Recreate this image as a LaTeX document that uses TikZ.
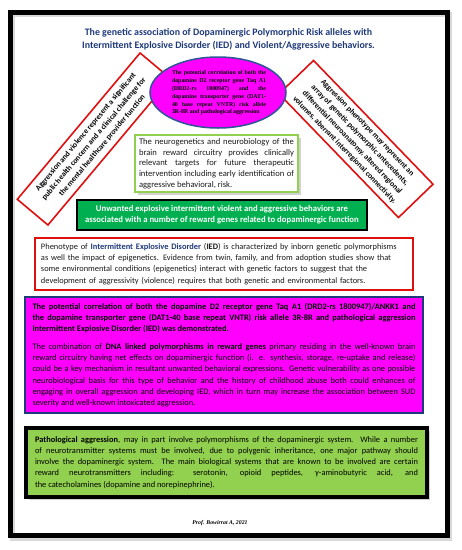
\documentclass[tikz,border=0pt]{standalone}
\usepackage{fontspec}
\setmainfont{Carlito}
\newfontfamily\tnr{Liberation Serif}
\usetikzlibrary{shapes.geometric}
\definecolor{navy}{HTML}{1F3A7A}
\definecolor{ellborder}{HTML}{2E5597}
\definecolor{lgreen}{HTML}{92D050}
\definecolor{dgreen}{HTML}{00B050}
\definecolor{mag}{HTML}{FF00FF}
\definecolor{boxred}{HTML}{E01010}
\definecolor{bodytext}{HTML}{1A1A1A}
\tikzset{
  body/.style={font=\fontsize{8.4}{11.2}\selectfont, text=bodytext},
  just/.style={align=justify, execute at begin node={\hyphenpenalty=10000\tolerance=10000\hbadness=10000}},
  rotbox/.style={draw=boxred, line width=1.6pt, fill=white, inner sep=0pt, align=center,
     font=\bfseries\fontsize{7.8}{10.6}\selectfont},
  shadowbox/.style={fill=black!18},
}
\begin{document}
\begin{tikzpicture}[x=1pt,y=-1pt]
\useasboundingbox (0,0) rectangle (462,550);
\fill[white] (0,0) rectangle (462,550);
% outer frame with shadow
\draw[line width=5pt, black!15] (12.5,14.5) rectangle (449.5,538);
\node[draw, line width=5pt, minimum width=437pt, minimum height=523.5pt, inner sep=0pt] (frame) at (228.5,273.75) {};

% title
\node[font=\bfseries\fontsize{9.9}{13}\selectfont, text=navy, align=center] (title) at (228.5,39.5)
 {The genetic association of Dopaminergic Polymorphic Risk alleles with\\
  Intermittent Explosive Disorder (IED) and Violent/Aggressive behaviors.};

% rotated red boxes
\node[rotbox, rotate=50, minimum width=191pt, minimum height=40pt] (left) at (94,139)
 {Aggression and violence represent a significant\\
  public health concern and a clinical challenge for\\
  the mental healthcare provider function};
\node[rotbox, rotate=-46, minimum width=172pt, minimum height=48pt] (right) at (356,139)
 {Aggression phenotype may represent an\\
  array of genetic polymorphic antecedents,\\
  differential neuroanatomy, altered regional\\
  volumes, aberrant interregional connectivity.};

% ellipse
\node[ellipse, draw=ellborder, line width=1.5pt, fill=mag, minimum width=136pt, minimum height=71pt, inner sep=0pt] (ell) at (218,92.5) {};
\node[text width=94pt, just, inner sep=0pt, font=\tnr\bfseries\fontsize{5.9}{7.8}\selectfont] (elltext) at (219,93)
 {The potential correlation of both the\linebreak
  dopamine D2 receptor gene Taq A1\linebreak
  (DRD2-rs 1800947) and the\linebreak
  dopamine transporter gene (DAT1-\linebreak
  40 base repeat VNTR) risk allele\linebreak
  3R-8R and pathological aggression};

% green box 1
\fill[shadowbox] (137.5,137.5) rectangle (300.5,194.5);
\node[draw=lgreen, line width=2.5pt, fill=white, minimum width=163pt, minimum height=57pt, text width=155pt, inner sep=0pt,
  body, just, font=\fontsize{8.6}{10.7}\selectfont] (g1) at (216.5,163.5)
 {The neurogenetics and neurobiology of the\linebreak
  brain reward circuitry provides clinically\linebreak
  relevant targets for future therapeutic\linebreak
  intervention including early identification of\linebreak
  aggressive behavioral, risk.};

% green box 2
\node[draw=black, line width=2.5pt, fill=dgreen, minimum width=290pt, minimum height=30pt, inner sep=0pt,
  align=center, text=white, font=\bfseries\fontsize{8.7}{11}\selectfont] (g2) at (222,215)
 {Unwanted explosive intermittent violent and aggressive behaviors are\\
  associated with a number of reward genes related to dopaminergic function};

% red box
\node[draw=boxred, line width=1.5pt, fill=white, minimum width=378pt, minimum height=52pt, text width=366pt, inner sep=0pt,
  align=left, body] (red) at (224,264)
 {Phenotype of {\color{navy}\bfseries Intermittent Explosive Disorder} (\textbf{IED}) is characterized by inborn genetic polymorphisms\\
  as well the impact of epigenetics. Evidence from twin, family, and from adoption studies show that\\
  some environmental conditions (epigenetics) interact with genetic factors to suggest that the\\
  development of aggressivity (violence) requires that both genetic and environmental factors.};

% magenta box
\node[draw=navy, line width=1.5pt, fill=mag, minimum width=398pt, minimum height=116pt, text width=383pt, inner sep=0pt,
  body, just, text=black] (mbox) at (224,355)
 {\textbf{The potential correlation of both the dopamine D2 receptor gene Taq A1 (DRD2-rs 1800947)/ANKK1 and\linebreak
  the dopamine transporter gene (DAT1-40 base repeat VNTR) risk allele 3R-8R and pathological aggression\linebreak
  Intermittent Explosive Disorder (IED) was demonstrated.}\par\vspace{6.5pt}
  The combination of \textbf{DNA linked polymorphisms in reward genes} primary residing in the well-known brain\linebreak
  reward circuitry having net effects on dopaminergic function (i. e. synthesis, storage, re-uptake and release)\linebreak
  could be a key mechanism in resultant unwanted behavioral expressions. Genetic vulnerability as one possible\linebreak
  neurobiological basis for this type of behavior and the history of childhood abuse both could enhances of\linebreak
  engaging in overall aggression and developing IED, which in turn may increase the association between SUD\linebreak
  severity and well-known intoxicated aggression.};

% green box 3
\fill[shadowbox] (29,431) rectangle (430,500);
\node[draw=black, line width=3.5pt, fill=lgreen, minimum width=401pt, minimum height=69pt, text width=383pt, inner sep=0pt,
  body, just, text=black] (g3) at (226.5,462.5)
 {\textbf{Pathological aggression}, may in part involve polymorphisms of the dopaminergic system. While a number\linebreak
  of neurotransmitter systems must be involved, due to polygenic inheritance, one major pathway should\linebreak
  involve the dopaminergic system. The main biological systems that are known to be involved are certain\linebreak
  reward neurotransmitters including: serotonin, opioid peptides, γ-aminobutyric acid, and\linebreak
  the catecholamines (dopamine and norepinephrine).};

% signature
\node[font=\tnr\itshape\bfseries\fontsize{5.8}{7}\selectfont] (sig) at (220,523) {Prof. Bowirrat A, 2021};
\end{tikzpicture}
\end{document}
